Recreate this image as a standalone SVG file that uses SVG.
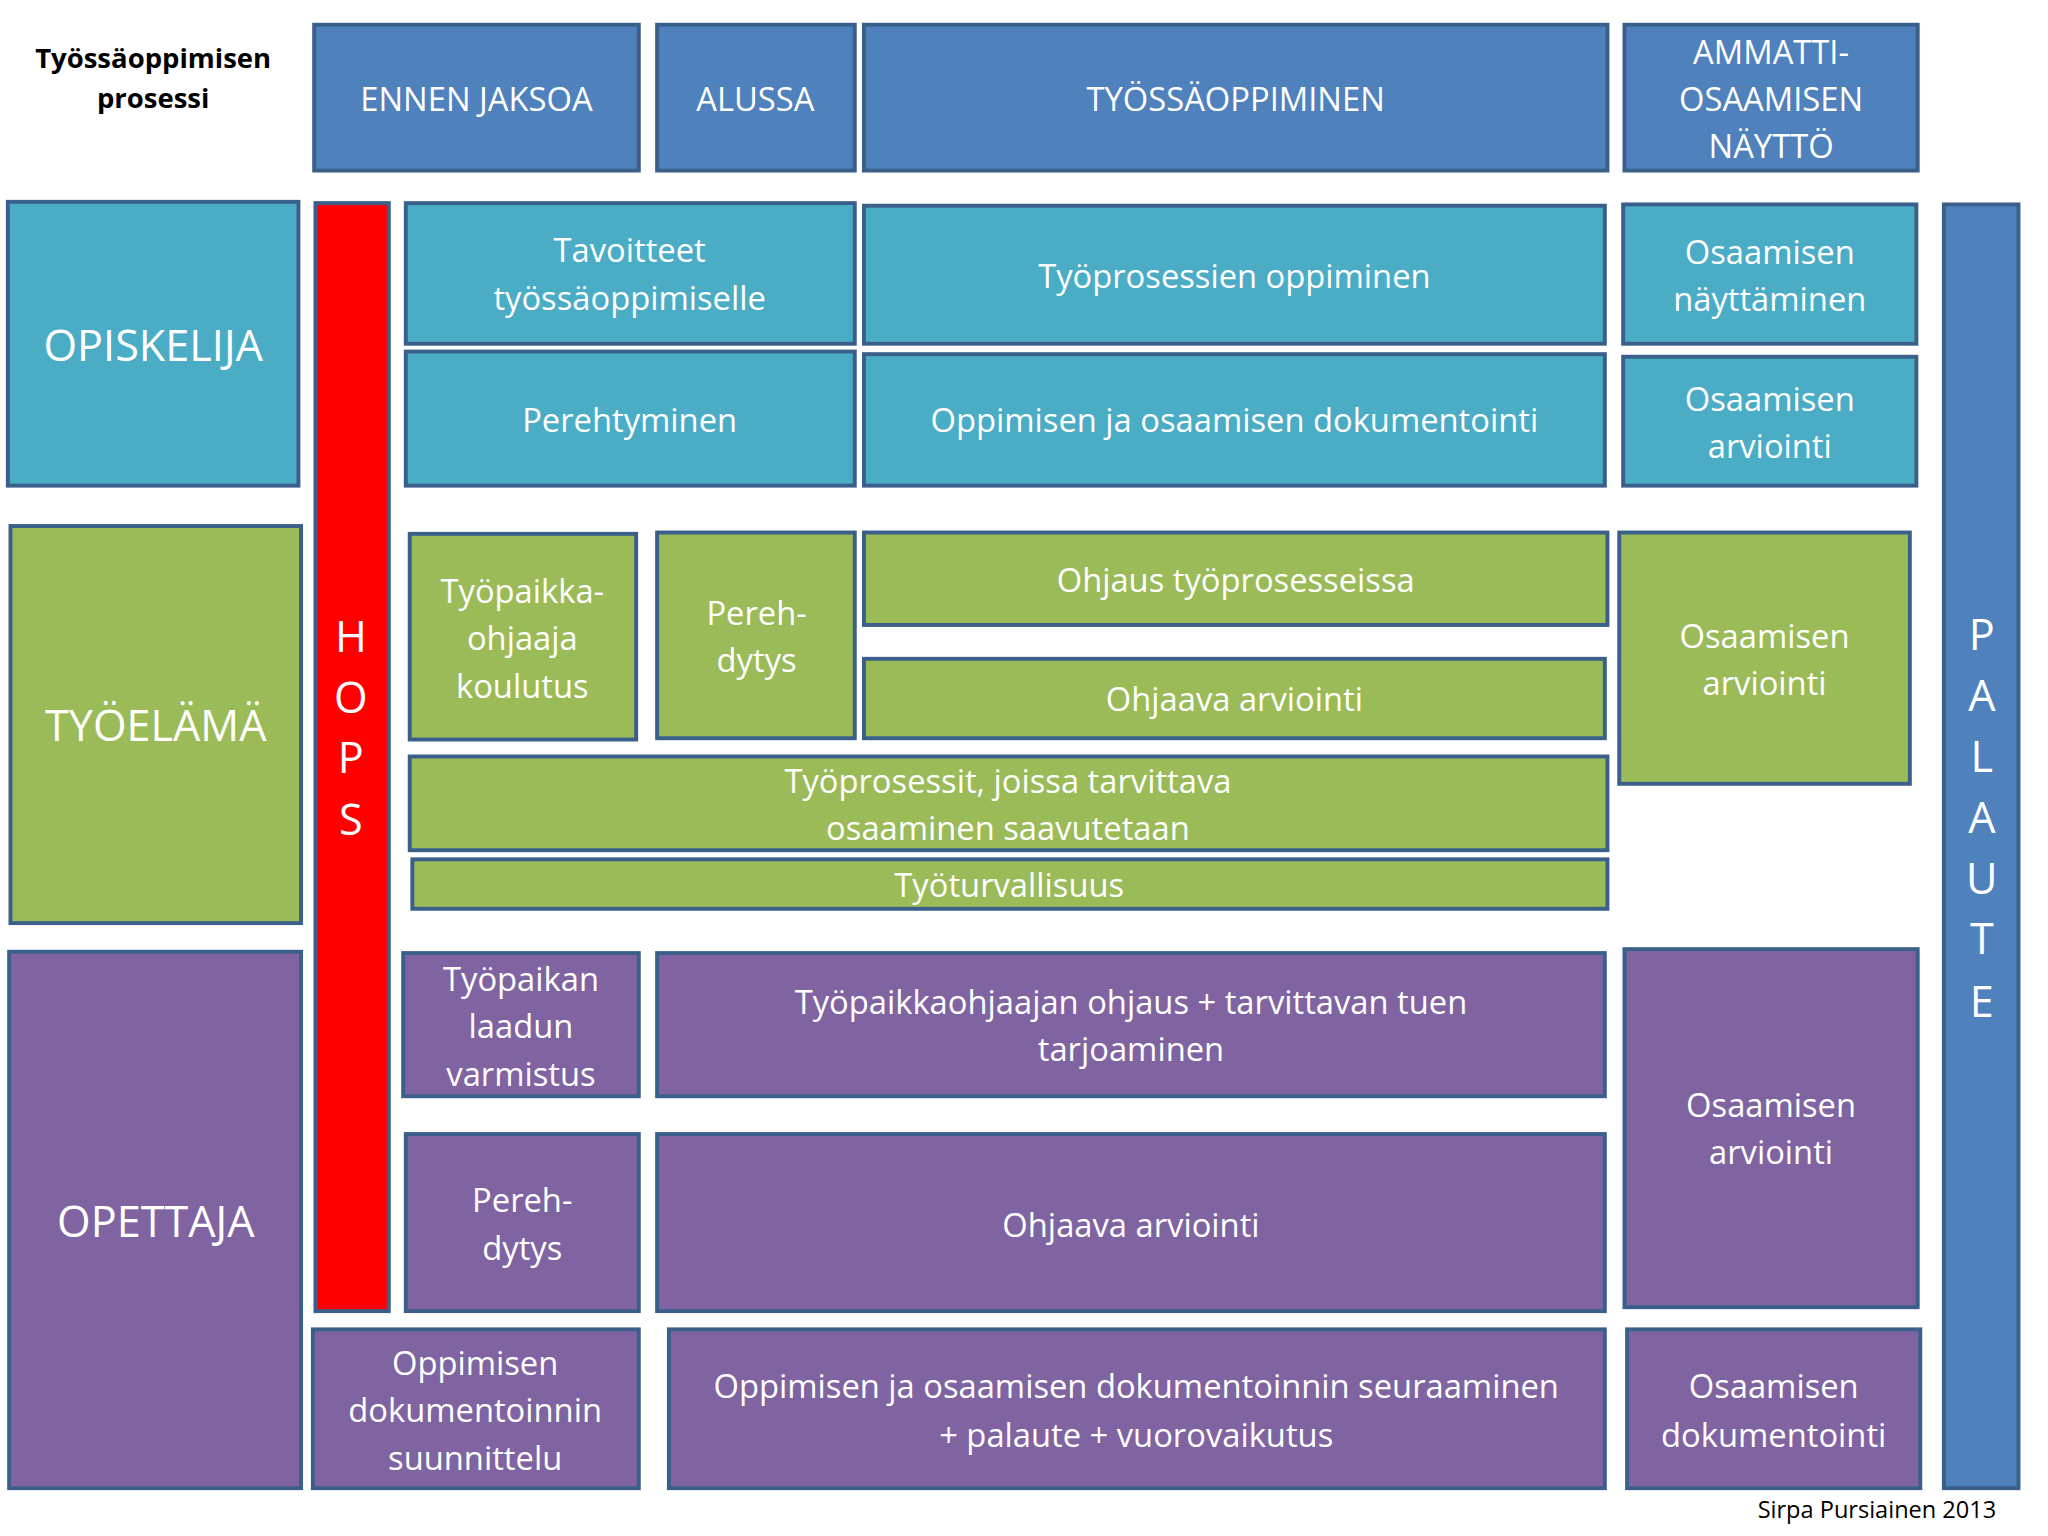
<svg xmlns="http://www.w3.org/2000/svg" width="2048" height="1536" viewBox="0 0 2048 1536">
<style>
rect{stroke:#3a5f8b;stroke-width:3}
.h{fill:#4f81bd}.t{fill:#4bacc6}.g{fill:#9bbb59}.p{fill:#8064a2}.r{fill:#ff0000}
text{font-family:"Open Sans","Noto Sans",sans-serif;fill:#fff;text-anchor:middle;font-size:25px}
.big{font-size:33px}
.k{fill:#000}
</style>
<rect x="0" y="0" width="2048" height="1536" fill="#fff" style="stroke:none"/>
<g transform="scale(1.309,1.302)">
<g id="title"><text class="k" x="117" y="52" style="font-weight:bold;font-size:21px">Työssäoppimisen</text><text class="k" x="117" y="83" style="font-weight:bold;font-size:21px">prosessi</text></g>
<g id="h1"><rect class="h" x="240" y="19" width="248" height="112"/><text x="364" y="85">ENNEN JAKSOA</text></g>
<g id="h2"><rect class="h" x="502" y="19" width="151" height="112"/><text x="577" y="85">ALUSSA</text></g>
<g id="h3"><rect class="h" x="660" y="19" width="568" height="112"/><text x="944" y="85">TYÖSSÄOPPIMINEN</text></g>
<g id="h4"><rect class="h" x="1241" y="19" width="224" height="112"/><text x="1353" y="49">AMMATTI-</text><text x="1353" y="85">OSAAMISEN</text><text x="1353" y="121">NÄYTTÖ</text></g>
<g id="opiskelija"><rect class="t" x="6" y="155" width="222" height="218"/><text class="big" x="117" y="277">OPISKELIJA</text></g>
<g id="tyoelama"><rect class="g" x="8" y="404" width="222" height="305"/><text class="big" x="119" y="569">TYÖELÄMÄ</text></g>
<g id="opettaja"><rect class="p" x="7" y="731" width="223" height="412"/><text class="big" x="119" y="950">OPETTAJA</text></g>
<g id="hops"><rect class="r" x="241" y="156" width="56" height="851"/><text class="big" x="268" y="501">H</text><text class="big" x="268" y="548">O</text><text class="big" x="268" y="594">P</text><text class="big" x="268" y="641">S</text></g>
<g id="palaute"><rect class="h" x="1485" y="157" width="57" height="986"/>
<text class="big" x="1514" y="499">P</text><text class="big" x="1514" y="546">A</text><text class="big" x="1514" y="593">L</text><text class="big" x="1514" y="640">A</text><text class="big" x="1514" y="687">U</text><text class="big" x="1514" y="733">T</text><text class="big" x="1514" y="781">E</text></g>
<g id="t1"><rect class="t" x="310" y="156" width="343" height="108"/><text x="481" y="201">Tavoitteet</text><text x="481" y="238">työssäoppimiselle</text></g>
<g id="t2"><rect class="t" x="660" y="158" width="566" height="106"/><text x="943" y="221">Työprosessien oppiminen</text></g>
<g id="t3"><rect class="t" x="1240" y="157" width="224" height="107"/><text x="1352" y="203">Osaamisen</text><text x="1352" y="239">näyttäminen</text></g>
<g id="t4"><rect class="t" x="310" y="270" width="343" height="103"/><text x="481" y="332">Perehtyminen</text></g>
<g id="t5"><rect class="t" x="660" y="272" width="566" height="101"/><text x="943" y="332">Oppimisen ja osaamisen dokumentointi</text></g>
<g id="t6"><rect class="t" x="1240" y="274" width="224" height="99"/><text x="1352" y="316">Osaamisen</text><text x="1352" y="352">arviointi</text></g>
<g id="g1"><rect class="g" x="313" y="410" width="173" height="158"/><text x="399" y="463">Työpaikka-</text><text x="399" y="499">ohjaaja</text><text x="399" y="536">koulutus</text></g>
<g id="g2"><rect class="g" x="502" y="409" width="151" height="158"/><text x="578" y="480">Pereh-</text><text x="578" y="516">dytys</text></g>
<g id="g3"><rect class="g" x="660" y="409" width="568" height="71"/><text x="944" y="455">Ohjaus työprosesseissa</text></g>
<g id="g4"><rect class="g" x="660" y="506" width="566" height="61"/><text x="943" y="546">Ohjaava arviointi</text></g>
<g id="g5"><rect class="g" x="1237" y="409" width="222" height="193"/><text x="1348" y="498">Osaamisen</text><text x="1348" y="534">arviointi</text></g>
<g id="g6"><rect class="g" x="313" y="581" width="915" height="72"/><text x="770" y="609">Työprosessit, joissa tarvittava</text><text x="770" y="645">osaaminen saavutetaan</text></g>
<g id="g7"><rect class="g" x="315" y="660" width="913" height="38"/><text x="771" y="689">Työturvallisuus</text></g>
<g id="p1"><rect class="p" x="308" y="732" width="180" height="110"/><text x="398" y="761">Työpaikan</text><text x="398" y="797">laadun</text><text x="398" y="834">varmistus</text></g>
<g id="p2"><rect class="p" x="502" y="732" width="724" height="110"/><text x="864" y="779">Työpaikkaohjaajan ohjaus + tarvittavan tuen</text><text x="864" y="815">tarjoaminen</text></g>
<g id="p3"><rect class="p" x="1241" y="729" width="224" height="275"/><text x="1353" y="858">Osaamisen</text><text x="1353" y="894">arviointi</text></g>
<g id="p4"><rect class="p" x="310" y="871" width="178" height="136"/><text x="399" y="931">Pereh-</text><text x="399" y="968">dytys</text></g>
<g id="p5"><rect class="p" x="502" y="871" width="724" height="136"/><text x="864" y="950">Ohjaava arviointi</text></g>
<g id="p6"><rect class="p" x="239" y="1021" width="249" height="122"/><text x="363" y="1056">Oppimisen</text><text x="363" y="1092">dokumentoinnin</text><text x="363" y="1129">suunnittelu</text></g>
<g id="p7"><rect class="p" x="511" y="1021" width="715" height="122"/><text x="868" y="1074">Oppimisen ja osaamisen dokumentoinnin seuraaminen</text><text x="868" y="1111">+ palaute + vuorovaikutus</text></g>
<g id="p8"><rect class="p" x="1243" y="1021" width="224" height="122"/><text x="1355" y="1074">Osaamisen</text><text x="1355" y="1111">dokumentointi</text></g>
<g id="footer"><text class="k" x="1525" y="1166" style="text-anchor:end;font-size:18px">Sirpa Pursiainen 2013</text></g>
</g>
</svg>
